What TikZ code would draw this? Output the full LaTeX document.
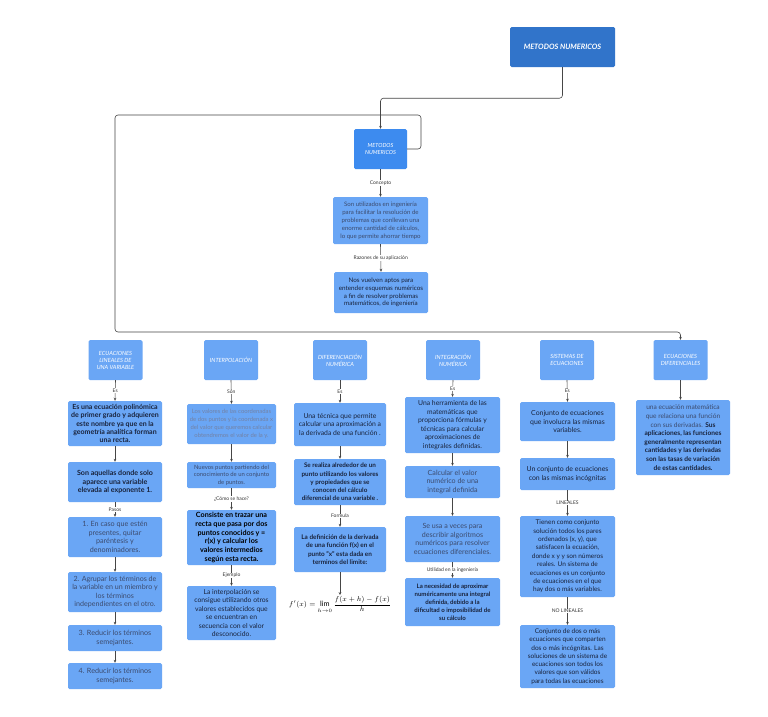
\documentclass[tikz,border=0pt]{standalone}
\usepackage{fontspec}
\setmainfont{Lato}
\usetikzlibrary{arrows.meta}
\definecolor{boxfill}{RGB}{106,166,245}
\definecolor{mnfill}{RGB}{61,139,239}
\definecolor{topfill}{RGB}{49,116,202}
\definecolor{edge}{RGB}{70,70,70}
\definecolor{dtext}{RGB}{25,35,60}
\definecolor{gtext}{RGB}{60,75,110}
\definecolor{ltext}{RGB}{115,130,165}
\tikzset{
  bx/.style={draw=none, fill=boxfill, rounded corners=1.5pt, align=center, inner sep=1pt, text=dtext},
  sz/.style 2 args={minimum width=#1pt, minimum height=#2pt},
  fs/.style 2 args={font=\fontsize{#1}{#2}\selectfont},
  fsb/.style 2 args={font=\fontsize{#1}{#2}\selectfont\bfseries},
  hd/.style={bx, text=white, font=\fontsize{5.7}{7}\selectfont\itshape, minimum width=54pt, minimum height=40pt},
  conn/.style={draw=edge, line width=0.6pt, -{Stealth[length=3pt,width=2.6pt]}},
  lbl/.style={fill=white, inner sep=0.6pt, text=black!80, font=\fontsize{5}{5.6}\selectfont},
}
\begin{document}
\begin{tikzpicture}[x=1pt,y=-1pt]
\useasboundingbox[fill=white] (0,0) rectangle (768,716);
% top
\node[bx, fill=topfill, text=white, font=\fontsize{7.4}{8.5}\selectfont\bfseries\itshape, sz={105}{40}] (top) at (562.5,47) {METODOS NUMERICOS};
\node[bx, fill=mnfill, text=white, font=\fontsize{5.6}{7}\selectfont\itshape, sz={53}{40}] (mn) at (380.5,149) {METODOS\\NUMERICOS};
\node[bx, fs={6.1}{8}, text=gtext, sz={95}{47}] (c1) at (380.5,220.5) {Son utilizados en ingeniería\\para facilitar la resolución de\\problemas que conllevan una\\enorme cantidad de cálculos,\\lo que permite ahorrar tiempo};
\node[bx, fs={6.3}{7.8}, sz={94}{41}] (c2) at (381,292.5) {Nos vuelven aptos para\\entender esquemas numéricos\\a fin de resolver problemas\\matemáticos, de ingeniería};
% headers
\node[hd] (h1) at (115.5,360) {ECUACIONES\\LINEALES DE\\UNA VARIABLE};
\node[hd] (h2) at (231,360) {INTERPOLACIÓN};
\node[hd] (h3) at (340,360) {DIFERENCIACIÓN\\NUMÉRICA};
\node[hd] (h4) at (453,360) {INTEGRACIÓN\\NUMÉRICA};
\node[hd] (h5) at (567,360) {SISTEMAS DE\\ECUACIONES};
\node[hd] (h6) at (680.5,360) {ECUACIONES\\DIFERENCIALES};
% column 1
\node[bx, fsb={7}{8.2}, sz={94}{45}] (b11) at (115,423.5) {Es una ecuación polinómica\\de primer grado y adquieren\\este nombre ya que en la\\geometría analítica forman\\una recta.};
\node[bx, fsb={7.1}{8.6}, sz={94}{40}] (b12) at (115,482) {Son aquellas donde solo\\aparece una variable\\elevada al exponente 1.};
\node[bx, fs={7.2}{8.6}, text=gtext, sz={94}{40}] (b13) at (115,537) {1. En caso que estén\\presentes, quitar\\paréntesis y\\denominadores.};
\node[bx, fs={7.1}{8.6}, text=gtext, sz={94}{40}] (b14) at (115,592) {2. Agrupar los términos de\\la variable en un miembro y\\los términos\\independientes en el otro.};
\node[bx, fs={7.2}{8.6}, text=gtext, sz={94}{26}] (b15) at (115,638) {3. Reducir los términos\\semejantes.};
\node[bx, fs={7.2}{8.6}, text=gtext, sz={94}{26}] (b16) at (115,676) {4. Reducir los términos\\semejantes.};
% column 2
\node[bx, fs={5.9}{7.8}, text=ltext, sz={89}{40}] (b21) at (231.5,424) {Los valores de las coordenadas\\de dos puntos y la coordenada x\\del valor que queremos calcular\\obtendremos el valor de la y.};
\node[bx, fs={5.9}{7.4}, text=gtext, sz={89}{26}] (b22) at (231.5,475) {Nuevos puntos partiendo del\\conocimiento de un conjunto\\de puntos.};
\node[bx, fsb={7.2}{8.7}, text=black, sz={89}{55}] (b23) at (231.5,537.5) {Consiste en trazar una\\recta que pasa por dos\\puntos conocidos y =\\r(x) y calcular los\\valores intermedios\\según esta recta.};
\node[bx, fs={6.8}{8.4}, sz={89}{54}] (b24) at (231.5,613) {La interpolación se\\consigue utilizando otros\\valores establecidos que\\se encuentran en\\secuencia con el valor\\desconocido.};
% column 3
\node[bx, fs={6.8}{8.6}, sz={92}{43}] (b31) at (340,424.5) {Una técnica que permite\\calcular una aproximación a\\la derivada de una función .};
\node[bx, fsb={6.3}{8.2}, sz={92}{46}] (b32) at (340,482) {Se realiza alrededor de un\\punto utilizando los valores\\y propiedades que se\\conocen del cálculo\\diferencial de una variable .};
\node[bx, fsb={6.4}{8.3}, sz={92}{45}] (b33) at (340,549.5) {La definición de la derivada\\de una función f(x) en el\\punto "x" esta dada en\\terminos del limite:};
\node[inner sep=1pt, font=\fontsize{7.3}{8.5}\selectfont] (f3) at (340,605) {$\displaystyle f'(x)=\lim_{h\to 0}\frac{f(x+h)-f(x)}{h}$};
% column 4
\node[bx, fs={6.8}{8.5}, sz={95}{56}] (b41) at (452.5,425) {Una herramienta de las\\matemáticas que\\proporciona fórmulas y\\técnicas para calcular\\aproximaciones de\\integrales definidas.};
\node[bx, fs={7.1}{8.8}, text=gtext, sz={95}{32}] (b42) at (452.5,482) {Calcular el valor\\numérico de una\\integral definida};
\node[bx, fs={7.1}{8.8}, text=gtext, sz={95}{46}] (b43) at (452.5,539) {Se usa a veces para\\describir algoritmos\\numéricos para resolver\\ecuaciones diferenciales.};
\node[bx, fsb={6.1}{8}, sz={95}{48}] (b44) at (452.5,602) {La necesidad de aproximar\\numéricamente una integral\\definida, debido a la\\dificultad o imposibilidad de\\su cálculo};
% column 5
\node[bx, fs={6.9}{8.6}, sz={95}{39}] (b51) at (567.5,421.5) {Conjunto de ecuaciones\\que involucra las mismas\\variables.};
\node[bx, fs={6.9}{8.6}, sz={95}{32}] (b52) at (567.5,474) {Un conjunto de ecuaciones\\con las mismas incógnitas};
\node[bx, fs={6.5}{8.4}, sz={95}{81}] (b53) at (567.5,556.5) {Tienen como conjunto\\solución todos los pares\\ordenados (x, y), que\\satisfacen la ecuación,\\donde x y y son números\\reales. Un sistema de\\ecuaciones es un conjunto\\de ecuaciones en el que\\hay dos o más variables.};
\node[bx, fs={6.5}{8.3}, sz={95}{63}] (b54) at (567.5,656.5) {Conjunto de dos o más\\ecuaciones que comparten\\dos o más incógnitas. Las\\soluciones de un sistema de\\ecuaciones son todos los\\valores que son válidos\\para todas las ecuaciones};
% column 6
\node[bx, fs={6.6}{8.6}, text=gtext, sz={94}{75}] (b61) at (683,437.5) {una ecuación matemática\\que relaciona una función\\con sus derivadas. {\color{dtext}\bfseries Sus}\\{\color{dtext}\bfseries aplicaciones, las funciones}\\{\color{dtext}\bfseries generalmente representan}\\{\color{dtext}\bfseries cantidades y las derivadas}\\{\color{dtext}\bfseries son las tasas de variación}\\{\color{dtext}\bfseries de estas cantidades.}};
% connectors
\draw[conn, rounded corners=3pt] (top.south) -- ++(0,31) -| (mn.north);
\draw[conn, rounded corners=3pt] (mn.east) -- (421,149) -- (421,115) -- (115,115) -- (115,332) -- (h6.north |- 0,332) -- (h6.north);
\draw[conn] (mn.south) -- node[lbl] {Concepto} (c1.north);
\draw[conn] (c1.south) -- node[lbl] {Razones de su aplicación} (c2.north);
\draw[conn] (h1.south) -- node[lbl] {Es} (b11.north);
\draw[conn] (b11.south) -- (b12.north);
\draw[conn] (b12.south) -- node[lbl] {Pasos} (b13.north);
\draw[conn] (b13.south) -- (b14.north);
\draw[conn] (b14.south) -- (b15.north);
\draw[conn] (b15.south) -- (b16.north);
\draw[conn] (h2.south) -- node[lbl] {Son} (b21.north);
\draw[conn] (b21.south) -- (b22.north);
\draw[conn] (b22.south) -- node[lbl] {¿Cómo se hace?} (b23.north);
\draw[conn] (b23.south) -- node[lbl] {Ejemplo} (b24.north);
\draw[conn] (h3.south) -- node[lbl] {Es} (b31.north);
\draw[conn] (b31.south) -- (b32.north);
\draw[conn] (b32.south) -- node[lbl] {Formula} (b33.north);
\draw[conn] (b33.south) -- (f3.north);
\draw[conn] (h4.south) -- node[lbl] {Es} (b41.north);
\draw[conn] (b41.south) -- (b42.north);
\draw[conn] (b42.south) -- (b43.north);
\draw[conn] (b43.south) -- node[lbl] {Utilidad en la ingeniería} (b44.north);
\draw[conn] (h5.south) -- node[lbl] {Es} (b51.north);
\draw[conn] (b51.south) -- (b52.north);
\draw[conn] (b52.south) -- node[lbl] {LINEALES} (b53.north);
\draw[conn] (b53.south) -- node[lbl] {NO LINEALES} (b54.north);
\draw[conn] (h6.south) -- (b61.north -| h6.south);
\end{tikzpicture}
\end{document}
